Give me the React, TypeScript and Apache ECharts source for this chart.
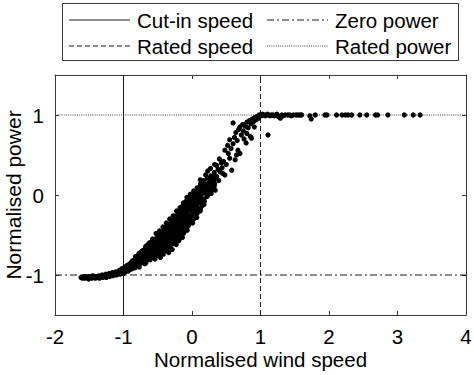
import React, { useEffect, useRef } from "react";
import * as echarts from "echarts";

// ---- data ----
const xTicks = [-2, -1, 0, 1, 2, 3, 4];
const yTicks = [-1, 0, 1];
const cutInSpeed = -1;
const ratedSpeed = 1;
const zeroPower = -1;
const ratedPower = 1;
const legendNames = ["Cut-in speed", "Zero power", "Rated speed", "Rated power"];

const lowBand: [number, number][] = [
  [-1.62,-1.03],[-1.60,-1.04],[-1.58,-1.02],[-1.56,-1.04],[-1.55,-1.02],[-1.53,-1.03],[-1.51,-1.05],[-1.50,-1.02],
  [-1.48,-1.03],[-1.46,-1.04],[-1.45,-1.01],[-1.43,-1.03],[-1.41,-1.04],[-1.40,-1.02],[-1.38,-1.03],[-1.36,-1.01],
  [-1.35,-1.04],[-1.33,-1.02],[-1.31,-1.00],[-1.30,-1.03],[-1.28,-1.01],[-1.26,-0.99],[-1.25,-1.03],[-1.23,-1.00],
  [-1.21,-0.98],[-1.20,-1.02],[-1.18,-0.99],[-1.16,-0.97],[-1.15,-1.01],[-1.13,-0.98],[-1.11,-0.96],[-1.10,-1.00],
  [-1.08,-0.97],[-1.06,-0.94],[-1.05,-0.99],[-1.03,-0.96],[-1.02,-0.92],[-1.00,-0.98],[-0.99,-0.94],[-0.98,-0.90],
];

const midBand: [number, number][] = [
  [-0.97,-0.96],[-0.96,-0.92],[-0.95,-0.88],[-0.93,-0.95],[-0.92,-0.90],[-0.91,-0.86],[-0.90,-0.93],
  [-0.89,-0.90],[-0.88,-0.85],[-0.87,-0.92],[-0.86,-0.87],[-0.86,-0.82],[-0.85,-0.89],[-0.84,-0.84],[-0.83,-0.80],
  [-0.83,-0.91],[-0.82,-0.86],[-0.81,-0.79],[-0.80,-0.88],[-0.80,-0.83],[-0.79,-0.76],[-0.78,-0.85],[-0.78,-0.80],
  [-0.77,-0.90],[-0.76,-0.82],[-0.76,-0.75],[-0.75,-0.78],[-0.74,-0.85],[-0.74,-0.71],[-0.73,-0.80],
  [-0.72,-0.76],[-0.71,-0.83],[-0.71,-0.69],[-0.70,-0.79],[-0.69,-0.73],[-0.69,-0.86],[-0.68,-0.67],
  [-0.67,-0.77],[-0.67,-0.71],[-0.66,-0.82],[-0.65,-0.66],[-0.65,-0.74],[-0.64,-0.79],[-0.64,-0.62],
  [-0.63,-0.70],[-0.62,-0.76],[-0.62,-0.64],[-0.61,-0.81],[-0.60,-0.68],[-0.60,-0.59],[-0.59,-0.73],
  [-0.58,-0.78],[-0.58,-0.63],[-0.57,-0.69],[-0.56,-0.57],[-0.56,-0.74],[-0.55,-0.66],[-0.55,-0.60],
  [-0.54,-0.80],[-0.53,-0.71],[-0.53,-0.55],[-0.52,-0.63],[-0.51,-0.76],[-0.51,-0.58],[-0.50,-0.67],[-0.50,-0.52],
];

const upperBand: [number, number][] = [
  [-0.49,-0.62],[-0.48,-0.73],[-0.48,-0.49],[-0.47,-0.57],[-0.47,-0.66],[-0.46,-0.52],[-0.46,-0.78],
  [-0.45,-0.60],[-0.44,-0.46],[-0.44,-0.69],[-0.43,-0.55],[-0.43,-0.63],[-0.42,-0.50],[-0.42,-0.74],
  [-0.41,-0.58],[-0.40,-0.43],[-0.40,-0.65],[-0.39,-0.52],[-0.39,-0.70],[-0.38,-0.47],[-0.38,-0.60],[-0.37,-0.39],
  [-0.37,-0.56],[-0.36,-0.66],[-0.36,-0.44],[-0.35,-0.51],[-0.35,-0.61],[-0.34,-0.38],[-0.34,-0.72],[-0.33,-0.47],
  [-0.33,-0.55],[-0.32,-0.42],[-0.32,-0.63],[-0.31,-0.35],[-0.31,-0.50],[-0.30,-0.58],[-0.30,-0.44],[-0.29,-0.31],
  [-0.29,-0.68],[-0.28,-0.48],[-0.28,-0.39],[-0.27,-0.55],[-0.27,-0.33],[-0.26,-0.45],[-0.26,-0.60],[-0.25,-0.28],
  [-0.25,-0.40],[-0.24,-0.51],[-0.24,-0.35],[-0.23,-0.62],[-0.23,-0.26],[-0.22,-0.44],[-0.22,-0.31],[-0.21,-0.55],
  [-0.21,-0.38],[-0.20,-0.22],[-0.20,-0.47],[-0.19,-0.33],[-0.19,-0.57],[-0.18,-0.28],[-0.18,-0.41],[-0.17,-0.18],
  [-0.17,-0.50],[-0.16,-0.36],[-0.16,-0.24],[-0.15,-0.44],[-0.15,-0.15],[-0.14,-0.30],[-0.14,-0.53],[-0.13,-0.21],
  [-0.13,-0.39],[-0.12,-0.27],[-0.12,-0.12],[-0.11,-0.46],[-0.11,-0.33],[-0.10,-0.18],[-0.10,-0.41],[-0.09,-0.08],
  [-0.09,-0.25],[-0.08,-0.36],[-0.08,-0.14],[-0.07,-0.44],[-0.07,-0.21],[-0.06,-0.30],[-0.06,-0.05],[-0.05,-0.17],
  [-0.05,-0.38],[-0.04,-0.26],[-0.04,-0.10],[-0.03,-0.33],[-0.03,-0.02],[-0.02,-0.19],[-0.01,-0.29],[-0.01,-0.12],
  [0.00,-0.06],[0.01,-0.35],[0.01,-0.22],[0.02,0.01],[0.03,-0.15],[0.03,-0.27],[0.04,-0.08],[0.05,0.04],
  [0.05,-0.20],[0.06,-0.11],[0.07,-0.28],[0.07,0.00],[0.08,-0.05],[0.09,-0.17],[0.09,0.08],
  [0.10,-0.10],[0.11,0.02],[0.12,-0.20],[0.12,0.11],[0.13,-0.04],[0.14,0.06],[0.15,-0.13],
];

const bandFill: [number, number][] = [
  [-0.975,-0.93],[-0.925,-0.88],[-0.925,-0.94],[-0.875,-0.83],[-0.875,-0.89],
  [-0.825,-0.77],[-0.825,-0.84],[-0.825,-0.89],[-0.775,-0.73],[-0.775,-0.79],[-0.775,-0.87],
  [-0.725,-0.70],[-0.725,-0.77],[-0.725,-0.83],[-0.675,-0.64],[-0.675,-0.71],[-0.675,-0.79],[-0.675,-0.85],
  [-0.625,-0.60],[-0.625,-0.67],[-0.625,-0.74],[-0.625,-0.80],[-0.575,-0.55],[-0.575,-0.62],[-0.575,-0.70],[-0.575,-0.77],
  [-0.525,-0.48],[-0.525,-0.56],[-0.525,-0.65],[-0.525,-0.72],
  [-0.475,-0.45],[-0.475,-0.54],[-0.475,-0.61],[-0.475,-0.69],[-0.475,-0.75],
  [-0.425,-0.40],[-0.425,-0.49],[-0.425,-0.57],[-0.425,-0.66],[-0.425,-0.72],
  [-0.375,-0.35],[-0.375,-0.43],[-0.375,-0.53],[-0.375,-0.62],[-0.375,-0.68],
  [-0.325,-0.30],[-0.325,-0.40],[-0.325,-0.48],[-0.325,-0.57],[-0.325,-0.65],
  [-0.275,-0.26],[-0.275,-0.36],[-0.275,-0.43],[-0.275,-0.52],[-0.275,-0.61],
  [-0.225,-0.20],[-0.225,-0.29],[-0.225,-0.39],[-0.225,-0.48],[-0.225,-0.57],
  [-0.175,-0.16],[-0.175,-0.25],[-0.175,-0.34],[-0.175,-0.43],[-0.175,-0.52],
  [-0.125,-0.10],[-0.125,-0.19],[-0.125,-0.29],[-0.125,-0.38],[-0.125,-0.48],
  [-0.075,-0.03],[-0.075,-0.13],[-0.075,-0.23],[-0.075,-0.31],[-0.075,-0.41],
  [-0.025,0.01],[-0.025,-0.08],[-0.025,-0.17],[-0.025,-0.26],[-0.025,-0.35],
  [0.025,0.05],[0.025,-0.03],[0.025,-0.12],[0.025,-0.20],[0.025,-0.30],
  [0.075,0.09],[0.075,0.02],[0.075,-0.07],[0.075,-0.15],[0.075,-0.23],
  [0.125,0.14],[0.125,0.05],[0.125,-0.01],[0.125,-0.09],[0.125,-0.17],
  [0.175,0.18],[0.175,0.10],[0.175,0.03],[0.175,-0.05],[0.175,-0.12],
  [0.225,0.21],[0.225,0.14],[0.225,0.07],[0.225,0.00],
  [0.275,0.24],[0.275,0.13],[0.275,0.05],[0.325,0.28],[0.325,0.19],[0.325,0.11],
];

const transition: [number, number][] = [
  [0.12,0.19],[0.17,0.15],[0.29,0.17],[0.36,0.23],[0.26,0.08],[0.34,0.06],[0.36,0.37],[0.43,0.40],[0.41,0.29],
  [0.45,0.27],[0.48,0.25],[0.58,0.31],[0.48,0.56],[0.53,0.52],[0.55,0.46],[0.67,0.56],[0.70,0.52],[0.63,0.44],
  [0.55,0.69],[0.60,0.90],[0.70,0.85],[0.75,0.80],[0.80,0.77],[0.85,0.73],[0.87,0.71],[1.11,0.75],
  [0.16,0.02],[0.18,-0.08],[0.19,0.09],[0.21,0.12],[0.22,-0.02],[0.24,0.05],[0.25,0.15],[0.27,0.20],[0.28,0.02],
  [0.30,0.10],[0.31,0.24],[0.33,0.14],[0.20,0.25],[0.23,0.30],[0.38,0.32],[0.39,0.18],[0.40,0.45],[0.44,0.34],
  [0.46,0.42],[0.50,0.38],[0.52,0.62],[0.57,0.58],[0.60,0.64],[0.62,0.72],[0.64,0.78],[0.66,0.68],[0.68,0.82],
  [0.72,0.75],[0.74,0.88],[0.76,0.70],[0.78,0.86],[0.80,0.91],[0.82,0.84],[0.84,0.93],[0.86,0.89],[0.88,0.95],
  [0.90,0.92],[0.92,0.97],[0.94,0.94],[0.95,0.98],[0.97,0.96],[0.98,1.00],[0.99,0.99],[0.91,0.85],[0.79,0.65],
  [0.65,0.50],[0.33,0.38],[0.27,0.33],
];

const plateau: [number, number][] = [
  [1.00,1.00],[1.02,0.99],[1.03,1.01],[1.05,1.00],[1.07,0.99],[1.09,1.00],[1.10,1.01],[1.12,1.00],[1.14,0.99],
  [1.16,1.00],[1.18,1.00],[1.20,0.99],[1.22,1.00],[1.24,1.01],[1.26,0.98],[1.29,0.96],[1.31,1.00],[1.33,0.99],
  [1.36,1.00],[1.40,1.00],[1.43,1.00],[1.45,0.99],[1.48,1.00],[1.52,1.00],[1.55,1.00],[1.58,1.00],[1.60,1.00],
  [1.72,0.99],[1.74,0.95],[1.80,1.00],[1.94,1.00],[1.97,1.00],[2.11,1.00],[2.19,1.00],[2.24,1.00],[2.28,1.00],
  [2.33,1.00],[2.45,1.00],[2.55,1.00],[2.68,1.00],[2.71,1.00],[2.86,1.00],[3.10,1.00],[3.23,1.00],[3.33,1.00],
];

const FONT = "'Liberation Sans', Arial, sans-serif";
const FS = 20.5;
const INK = "#1a1a1a";
const AXIS = "#3a3a3a";
const X_MIN = -2, X_MAX = 4, Y_MIN = -1.5, Y_MAX = 1.5;
const DASH_DOT = [7, 3, 2, 3];
const DASHED = [5, 3];
const DOTTED = [1, 1.2];

export default function App() {
  const ref = useRef<HTMLDivElement>(null);
  useEffect(() => {
    if (!ref.current) return;
    const chart = echarts.init(ref.current, null, { renderer: "svg" });
    const points = [...lowBand, ...midBand, ...upperBand, ...bandFill, ...transition, ...plateau];
    const lineSeries = (name: string, data: number[][], type: any, color = INK) => ({
      name,
      type: "line",
      data,
      symbol: "none",
      silent: true,
      lineStyle: { color, width: 1, type },
      z: 1,
    });
    const legendLine = (x1: number, x2: number, y: number, dash: number[] | null, color = INK) => ({
      type: "line",
      shape: { x1, y1: y, x2, y2: y },
      style: { stroke: color, lineWidth: 1, lineDash: dash || undefined },
    });
    const legendText = (x: number, y: number, text: string) => ({
      type: "text",
      x,
      y,
      style: { text, fontSize: FS, fontFamily: FONT, fill: "#000", verticalAlign: "middle" },
    });
    const axisLine = { onZero: false, lineStyle: { color: AXIS, width: 1 } };
    const tickStyle = { color: AXIS, width: 1 };
    chart.setOption({
      animation: false,
      grid: { left: 55, right: 8, top: 75, bottom: 60, containLabel: false, outerBoundsMode: "none" },
      xAxis: [
        {
          type: "value", min: X_MIN, max: X_MAX, interval: 1, position: "bottom",
          name: "Normalised wind speed", nameLocation: "middle", nameGap: 34, nameMoveOverlap: false,
          nameTextStyle: { fontSize: FS, fontFamily: FONT, color: "#000" },
          axisLabel: { fontSize: FS, fontFamily: FONT, color: "#000", margin: 11 },
          axisTick: { inside: true, length: 4, lineStyle: tickStyle },
          axisLine, splitLine: { show: false },
        },
        {
          type: "value", min: X_MIN, max: X_MAX, interval: 1, position: "top",
          axisLabel: { show: false },
          axisTick: { inside: true, length: 4, lineStyle: tickStyle },
          axisLine, splitLine: { show: false },
        },
      ],
      yAxis: [
        {
          type: "value", min: Y_MIN, max: Y_MAX, position: "left",
          name: "Normalised power", nameLocation: "middle", nameGap: 31, nameRotate: 90, nameMoveOverlap: false,
          nameTextStyle: { fontSize: 21, fontFamily: FONT, color: "#000" },
          axisLabel: { fontSize: FS, fontFamily: FONT, color: "#000", margin: 11, customValues: yTicks },
          axisTick: { inside: true, length: 4, lineStyle: tickStyle, customValues: yTicks },
          axisLine, splitLine: { show: false },
        },
        {
          type: "value", min: Y_MIN, max: Y_MAX, position: "right",
          axisLabel: { show: false, customValues: yTicks },
          axisTick: { inside: true, length: 4, lineStyle: tickStyle, customValues: yTicks },
          axisLine, splitLine: { show: false },
        },
      ],
      series: [
        lineSeries(legendNames[0], [[cutInSpeed, Y_MIN], [cutInSpeed, Y_MAX]], "solid"),
        lineSeries(legendNames[1], [[X_MIN, zeroPower], [X_MAX, zeroPower]], DASH_DOT),
        lineSeries(legendNames[2], [[ratedSpeed, Y_MIN], [ratedSpeed, Y_MAX]], DASHED),
        lineSeries(legendNames[3], [[X_MIN, ratedPower], [X_MAX, ratedPower]], DOTTED, "#444"),
        {
          name: "Data",
          type: "scatter",
          data: points,
          symbol: "circle",
          symbolSize: 5.2,
          itemStyle: { color: "#000", opacity: 1 },
          silent: true,
          z: 3,
        },
      ],
      graphic: [
        {
          type: "rect",
          shape: { x: 62.5, y: 3.5, width: 396, height: 57 },
          style: { fill: "#fff", stroke: AXIS, lineWidth: 1 },
        },
        legendLine(69, 130, 20, null),
        legendText(137, 20, legendNames[0]),
        legendLine(267, 328, 20, DASH_DOT),
        legendText(335, 20, legendNames[1]),
        legendLine(69, 130, 46, DASHED),
        legendText(137, 46, legendNames[2]),
        legendLine(267, 328, 46, DOTTED, "#444"),
        legendText(335, 46, legendNames[3]),
      ],
    });
    return () => chart.dispose();
  }, []);
  return (
    <div
      ref={ref}
      style={{ position: "fixed", left: 0, top: 0, width: 474, height: 375, background: "#fff" }}
    />
  );
}
